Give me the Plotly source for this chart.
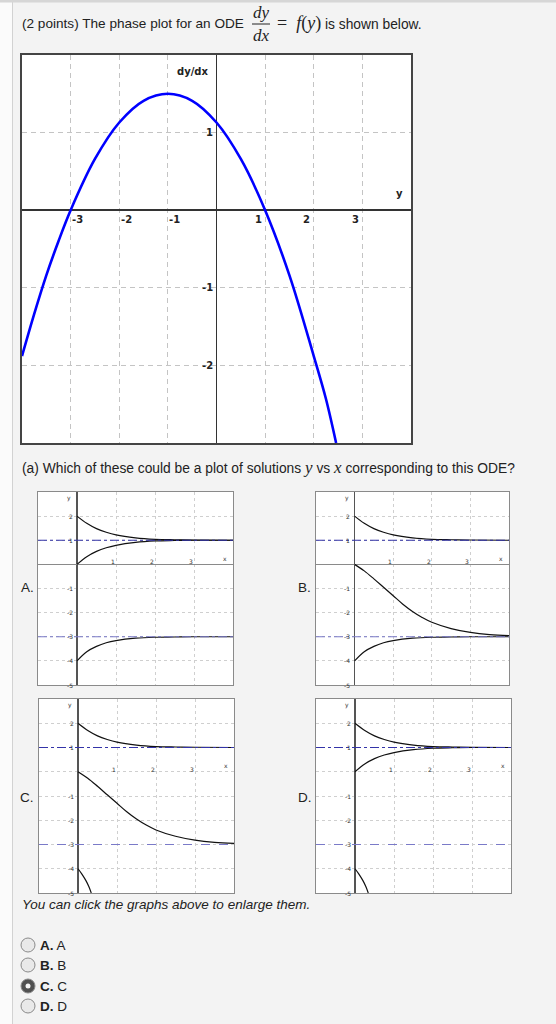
import plotly.graph_objects as go

W, H = 556, 1024

# ---------------- data ----------------
# phase plot: dy/dx = f(y)
phase_y = [-4.0, -3.75, -3.5, -3.25, -3.0, -2.5, -2.0, -1.5, -1.0, -0.5, 0.0, 0.5, 1.0, 1.5, 2.0, 2.25, 2.46]
phase_dydx = [-1.88, -1.34, -0.84, -0.40, 0.0, 0.66, 1.13, 1.41, 1.5, 1.41, 1.13, 0.66, 0.0, -0.84, -1.88, -2.43, -3.0]
phase_xticks = [-3, -2, -1, 1, 2, 3]
phase_yticks = [1, -1, -2]

# solution curves (y vs x)
t_pos = [0, 0.25, 0.5, 0.75, 1.0, 1.5, 2.0, 2.5, 3.0, 4.0]
sol_from_2 = [2.0, 1.70, 1.48, 1.33, 1.22, 1.10, 1.04, 1.02, 1.01, 1.0]
sol_from_0_up = [0.0, 0.32, 0.54, 0.69, 0.79, 0.91, 0.97, 0.99, 1.0, 1.0]
sol_from_m4_up = [-4.0, -3.62, -3.40, -3.25, -3.16, -3.06, -3.02, -3.01, -3.0, -3.0]
t_mid = [0, 0.25, 0.5, 0.75, 1.0, 1.25, 1.5, 1.75, 2.0, 2.5, 3.0, 3.5, 4.0]
sol_from_0_down = [0.0, -0.27, -0.6, -0.95, -1.3, -1.65, -1.95, -2.2, -2.4, -2.66, -2.82, -2.91, -2.95]
t_blow = [0.0, 0.1, 0.2, 0.28, 0.34]
sol_from_m4_down = [-4.0, -4.22, -4.48, -4.74, -5.0]
equilibria = [1, -3]
small_xticks = [1, 2, 3]
small_yticks = [2, 1, -1, -2, -3, -4, -5]

choices = ["A", "B", "C", "D"]
selected = "C"


def px(x):
    return x / W


def py(y):
    return 1 - y / H


fig = go.Figure()
annotations = []
shapes = []
TXT = 13.5
SERIF_SPAN = "<span style=\"font-family:'Liberation Serif';font-size:17px\">"


def ann(text, x, y, size=12, family="Liberation Sans", color="#222", xanchor="center",
        yanchor="middle", xref="paper", yref="paper"):
    if xref == "paper":
        x = px(x)
    if yref == "paper":
        y = py(y)
    annotations.append(dict(text=text, x=x, y=y, xref=xref, yref=yref, showarrow=False,
                            xanchor=xanchor, yanchor=yanchor,
                            font=dict(size=size, family=family, color=color)))


# ---------------- main phase plot ----------------
fig.add_trace(go.Scatter(x=phase_y, y=phase_dydx, mode="lines", line=dict(color="#0000ff", width=2.6, shape="spline"),
                         xaxis="x", yaxis="y", hoverinfo="skip"))

main_axis = dict(showgrid=True, gridcolor="#c4c4c4", griddash="5px,4px", gridwidth=1, dtick=1,
                 zeroline=True, zerolinecolor="#333", zerolinewidth=1.5,
                 showline=True, mirror=True, linecolor="#444", linewidth=2,
                 showticklabels=False, ticks="", fixedrange=True)
layout_axes = {}
layout_axes["xaxis"] = dict(main_axis, domain=[px(22), px(411)], range=[-4, 4], anchor="y")
layout_axes["yaxis"] = dict(main_axis, domain=[py(443), py(55)], range=[-3, 2], anchor="x")

fb = "DejaVu Sans"
for t in phase_xticks:
    if t < 0:
        ann("<b>-%d</b>" % -t, t - 0.01, -0.115, size=10, family=fb, xref="x", yref="y", xanchor="left")
    else:
        ann("<b>%d</b>" % t, t - 0.03, -0.115, size=10, family=fb, xref="x", yref="y", xanchor="right")
for t in phase_yticks:
    ann("<b>%s</b>" % ("-%d" % -t if t < 0 else t), -0.03, t, size=10, family=fb,
        xref="x", yref="y", xanchor="right")
ann("<b>dy/dx</b>", -0.49, 1.79, size=10, family=fb, xref="x", yref="y")
ann("<b>y</b>", 3.77, 0.22, size=10, family=fb, xref="x", yref="y")

# ---------------- small solution plots ----------------
small = {
    "A": dict(ax=2, xd=(38, 233), yd=(492, 685), curves=[(t_pos, sol_from_2), (t_pos, sol_from_0_up), (t_pos, sol_from_m4_up)], xaxis_line=True, low_dash="dashdot"),
    "B": dict(ax=3, xd=(316, 509), yd=(492, 685), curves=[(t_pos, sol_from_2), (t_mid, sol_from_0_down), (t_pos, sol_from_m4_up)], xaxis_line=True, low_dash="dashdot"),
    "C": dict(ax=4, xd=(39, 234), yd=(699, 893), curves=[(t_pos, sol_from_2), (t_mid, sol_from_0_down), (t_blow, sol_from_m4_down)], xaxis_line=False, low_dash="dash"),
    "D": dict(ax=5, xd=(316, 511), yd=(699, 893), curves=[(t_pos, sol_from_2), (t_pos, sol_from_0_up), (t_blow, sol_from_m4_down)], xaxis_line=False, low_dash="dash"),
}

for name, s in small.items():
    n = s["ax"]
    xa, ya = "x%d" % n, "y%d" % n
    base = dict(showgrid=True, gridcolor="#cfcfcf", griddash="dot", gridwidth=1, dtick=1,
                showline=True, mirror=True, linecolor="#8a8a8a", linewidth=1.3,
                showticklabels=False, ticks="", fixedrange=True)
    layout_axes["xaxis%d" % n] = dict(base, domain=[px(s["xd"][0]), px(s["xd"][1])], range=[-1, 4], anchor=ya,
                                      zeroline=True, zerolinecolor="#555", zerolinewidth=1.5)
    layout_axes["yaxis%d" % n] = dict(base, domain=[py(s["yd"][1]), py(s["yd"][0])], range=[-5, 3], anchor=xa,
                                      zeroline=s["xaxis_line"], zerolinecolor="#8a8a8a", zerolinewidth=1.5)
    for lvl in equilibria:
        shapes.append(dict(type="line", xref="%s domain" % xa, yref=ya, x0=0, x1=1, y0=lvl, y1=lvl,
                           line=dict(color="#3333a8" if lvl > 0 else "#7a7ac8", width=1.2,
                                     dash="dashdot" if lvl > 0 else s["low_dash"])))
    for cx, cy in s["curves"]:
        fig.add_trace(go.Scatter(x=cx, y=cy, mode="lines", line=dict(color="#111", width=1.2, shape="spline"),
                                 xaxis=xa, yaxis=ya, hoverinfo="skip"))
    for t in small_xticks:
        ann(str(t), t - 0.08, 0.1, size=6, family="DejaVu Sans", color="#333", xref=xa, yref=ya)
    ann("x", 3.8, 0.25, size=6, family="DejaVu Sans", color="#333", xref=xa, yref=ya)
    ann("y", -0.2, 2.75, size=6, family="DejaVu Sans", color="#333", xref=xa, yref=ya)
    for t in small_yticks:
        ann(str(t) if t > 0 else "-%d" % -t, -0.06, t, size=6, family="DejaVu Sans", color="#333",
            xref=xa, yref=ya, xanchor="right")

# choice letters beside plots
ann("A.", 27, 587, size=TXT)
ann("B.", 304, 587, size=TXT)
ann("C.", 27, 797, size=TXT)
ann("D.", 305, 797, size=TXT)

# ---------------- page text ----------------
serif = "Liberation Serif"
ann("(2 points) The phase plot for an ODE", 20, 23, size=13.6, xanchor="left")
ann("<i>dy</i>", 261, 12, size=17, family=serif)
ann("<i>dx</i>", 261, 35, size=17, family=serif)
shapes.append(dict(type="line", xref="paper", yref="paper", x0=px(252), x1=px(270), y0=py(24), y1=py(24),
                   line=dict(color="#222", width=1)))
ann("<span style=\"font-family:'Liberation Serif';font-size:18px\">=  <i>f</i>(<i>y</i>)</span> is shown below.",
    275, 23, size=13.8, xanchor="left")

ann("(a) Which of these could be a plot of solutions "
    + SERIF_SPAN + "<i>y</i></span> vs "
    + SERIF_SPAN + "<i>x</i></span> corresponding to this ODE?",
    20, 467, size=13.8, xanchor="left")

ann("<i>You can click the graphs above to enlarge them.</i>", 20, 904, size=TXT, xanchor="left")

radio_y = [945, 965, 986, 1006]
for c, yy in zip(choices, radio_y):
    sel = c == selected
    shapes.append(dict(type="circle", xref="paper", yref="paper", x0=px(21), x1=px(35), y0=py(yy + 7), y1=py(yy - 7),
                       fillcolor="#505050" if sel else "#e9e9e9", line=dict(color="#8a8a8a", width=1)))
    if sel:
        shapes.append(dict(type="circle", xref="paper", yref="paper", x0=px(25.5), x1=px(30.5), y0=py(yy + 2.5),
                           y1=py(yy - 2.5), fillcolor="#f4f4f4", line=dict(width=0)))
    ann("<b>%s.</b> %s" % (c, c), 38, yy, size=TXT, xanchor="left")

# page borders
shapes.append(dict(type="rect", xref="paper", yref="paper", x0=0, x1=px(12), y0=0, y1=1,
                   fillcolor="#fbfbfb", line=dict(width=0), layer="below"))
shapes.append(dict(type="line", xref="paper", yref="paper", x0=px(12.5), x1=px(12.5), y0=0, y1=1,
                   line=dict(color="#d2d2d2", width=1), layer="below"))
shapes.append(dict(type="rect", xref="paper", yref="paper", x0=0, x1=1, y0=py(2.5), y1=1,
                   fillcolor="#d6d6d6", line=dict(width=0), layer="below"))

fig.update_layout(
    width=W, height=H, margin=dict(l=0, r=0, t=0, b=0), autosize=False,
    paper_bgcolor="#f3f3f3", plot_bgcolor="#ffffff", showlegend=False,
    annotations=annotations, shapes=shapes,
    font=dict(family="Liberation Sans", color="#222"),
    **layout_axes,
)

fig.write_html("out.html", config={"displayModeBar": False, "staticPlot": True},
               post_script="document.body.style.margin='0';document.body.style.overflow='hidden';")
